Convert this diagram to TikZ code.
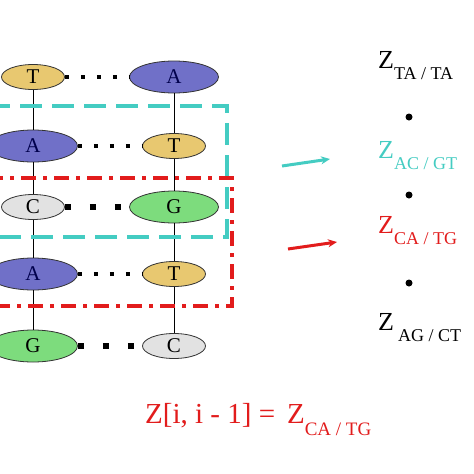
\documentclass[tikz,border=0pt]{standalone}
\usepackage{fontspec}
\setmainfont{Liberation Serif}
\usetikzlibrary{arrows.meta,shapes.geometric}
\definecolor{tyel}{RGB}{232,200,112}
\definecolor{ablue}{RGB}{112,112,200}
\definecolor{ggreen}{RGB}{125,220,125}
\definecolor{cgray}{RGB}{226,226,226}
\definecolor{cyanbox}{RGB}{68,204,194}
\definecolor{redbox}{RGB}{226,28,28}
\tikzset{
  base/.style={ellipse, draw=black!80, line width=0.8pt, inner sep=0pt, font=\fontsize{21}{21}\selectfont},
  small/.style={base, minimum width=63pt, minimum height=25pt},
  big/.style={base, minimum width=89pt, minimum height=32pt},
  tnuc/.style={small, fill=tyel},
  cnuc/.style={small, fill=cgray},
  anuc/.style={big, fill=ablue, text=black!70!blue},
  gnuc/.style={big, fill=ggreen},
  bond/.style={line width=0.9pt},
  hbond/.style={line width=4pt, dash pattern=on 4pt off 12pt},
  hbondbig/.style={line width=6pt, dash pattern=on 6pt off 19pt},
  zlab/.style={anchor=base west, inner sep=0pt, font=\fontsize{26}{26}\selectfont},
  dotm/.style={circle, fill=black, inner sep=0pt, minimum size=7pt},
}
\newcommand{\zsub}[1]{\raisebox{-11pt}{\fontsize{18}{18}\selectfont #1}}
\begin{document}
\begin{tikzpicture}[x=1pt,y=-1pt]
\fill[white] (0,0) rectangle (474,474);
\useasboundingbox (0,0) rectangle (474,474);
% left strand
\node[tnuc] (l1) at (33,77) {T};
\node[anuc] (l2) at (33,146) {A};
\node[cnuc] (l3) at (33,207) {C};
\node[anuc] (l4) at (33,274) {A};
\node[gnuc] (l5) at (33,346) {G};
% right strand
\node[anuc] (r1) at (174,77) {A};
\node[tnuc] (r2) at (174,146) {T};
\node[gnuc] (r3) at (174,207) {G};
\node[tnuc] (r4) at (174,274) {T};
\node[cnuc] (r5) at (174,346) {C};
% backbones
\draw[bond] (l1) -- (l2); \draw[bond] (l2) -- (l3); \draw[bond] (l3) -- (l4); \draw[bond] (l4) -- (l5);
\draw[bond] (r1) -- (r2); \draw[bond] (r2) -- (r3); \draw[bond] (r3) -- (r4); \draw[bond] (r4) -- (r5);
% base pairs
\draw[hbond] (l1) -- (r1);
\draw[hbond] (l2) -- (r2);
\draw[hbondbig] (l3) -- (r3);
\draw[hbond] (l4) -- (r4);
\draw[hbondbig] (l5) -- (r5);
% boxes
\draw[cyanbox, line width=3.2pt, dash pattern=on 22pt off 10pt] (-12,106) -- (227,106) -- (227,237) -- (-12,237);
\draw[redbox, line width=3.2pt, dash pattern=on 15pt off 7pt on 4pt off 7pt] (-12,178) -- (232,178) -- (232,306) -- (-12,306);
% labels
\node[zlab] (z1) at (378,68) {Z\zsub{TA / TA}};
\node[dotm] (d1) at (409,117) {};
\node[zlab, text=cyanbox] (z2) at (378,158) {Z\zsub{AC / GT}};
\node[dotm] (d2) at (409,195) {};
\node[zlab, text=redbox] (z3) at (378,233) {Z\zsub{CA / TG}};
\node[dotm] (d3) at (409,283) {};
\node[zlab] (z4) at (378,330) {Z\hspace{4pt}\zsub{AG / CT}};
% arrows
\coordinate (ca1) at (282,166); \coordinate (ca2) at (330,159);
\coordinate (ra1) at (288,249); \coordinate (ra2) at (337,242);
\draw[cyanbox, line width=3pt, -{Stealth[length=9pt,width=8pt]}] (ca1) -- (ca2);
\draw[redbox, line width=3pt, -{Stealth[length=9pt,width=8pt]}] (ra1) -- (ra2);
% formula
\node[anchor=base west, inner sep=0pt, text=redbox, font=\fontsize{29}{29}\selectfont] (f) at (145,423) {Z[i, i - 1] =\hspace{12pt}Z\raisebox{-12pt}{\fontsize{19}{19}\selectfont CA / TG}};
\end{tikzpicture}
\end{document}
